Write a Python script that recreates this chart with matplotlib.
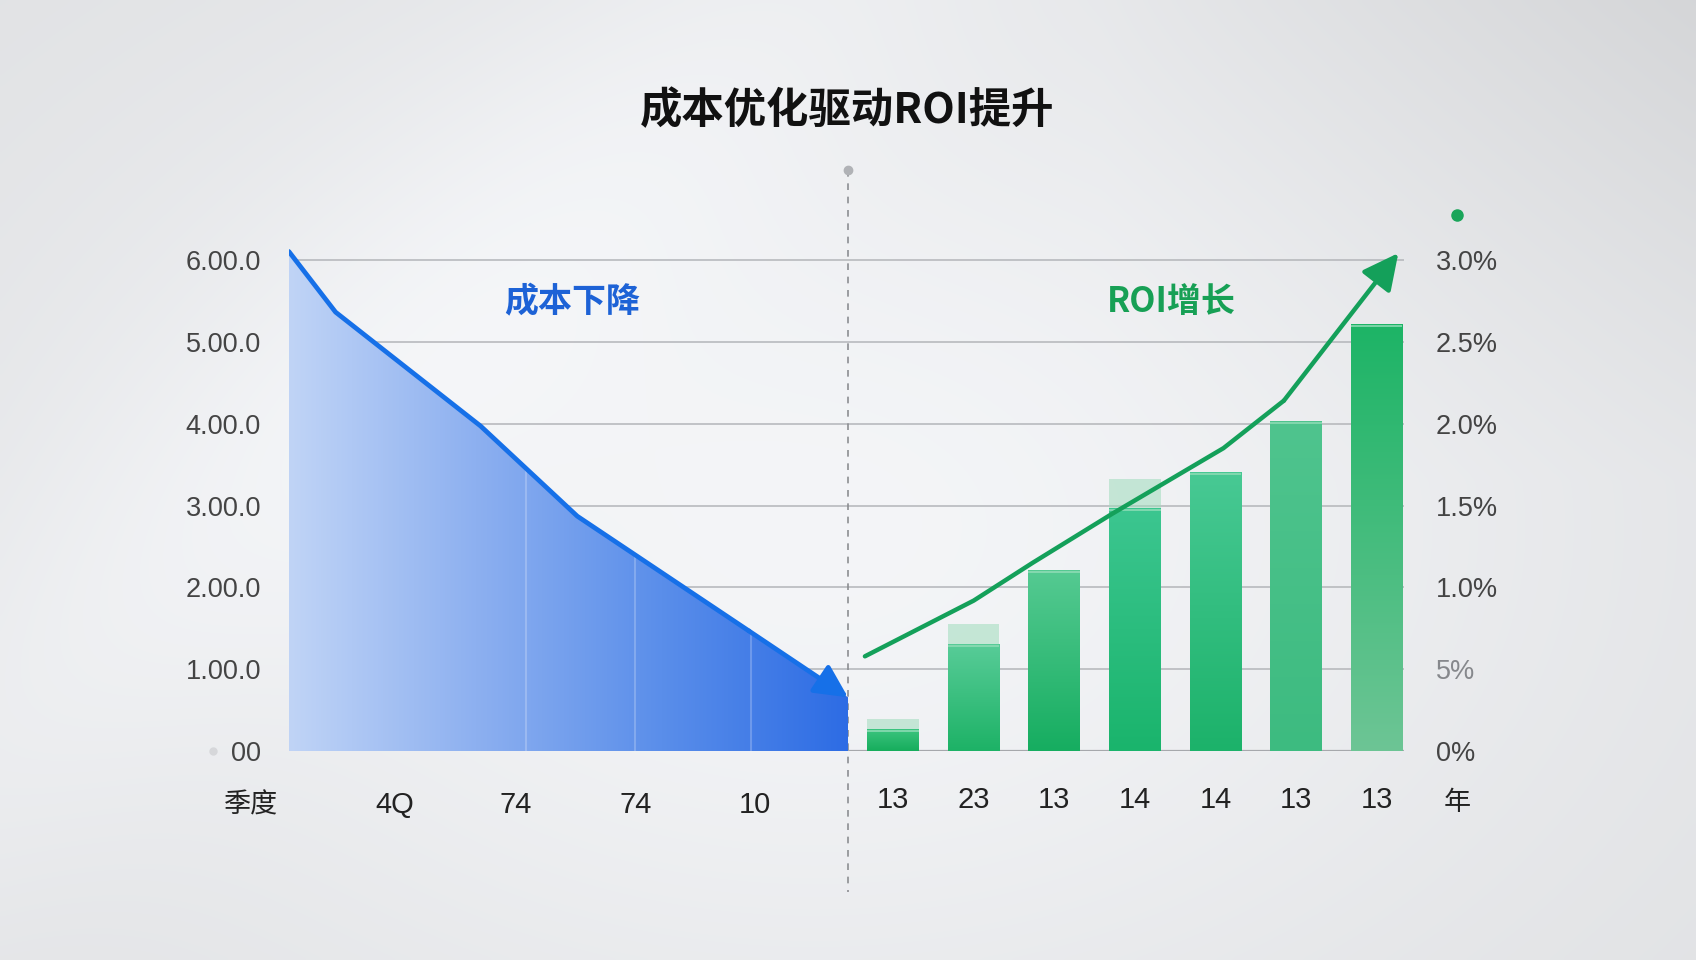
import numpy as np
import matplotlib
matplotlib.use("Agg")
import matplotlib.pyplot as plt
from matplotlib.colors import LinearSegmentedColormap
from matplotlib.patches import Polygon, Rectangle

plt.rcParams['font.family'] = ['Liberation Sans', 'Noto Sans CJK SC', 'DejaVu Sans']
CJK = ['Noto Sans CJK SC', 'DejaVu Sans']

title = "成本优化驱动ROI提升"
cost_label = "成本下降"
roi_label = "ROI增长"

# left half: cost going down
cost_t = [0.0, 0.58, 2.38, 3.58, 5.71, 6.94]
cost_vals = [6.10, 5.36, 3.97, 2.87, 1.47, 0.66]
cost_tick_vals = [6, 5, 4, 3, 2, 1, 0]
cost_ticks = ["6.00.0", "5.00.0", "4.00.0", "3.00.0", "2.00.0", "1.00.0", "00"]
quarter_labels = ["4Q", "74", "74", "10"]
quarter_axis_label = "季度"

# right half: ROI in %
year_labels = ["13", "23", "13", "14", "14", "13", "13"]
year_axis_label = "年"
roi_bars = [0.13, 0.65, 1.10, 1.48, 1.70, 2.01, 2.60]
roi_ghost = [0.20, 0.78, None, 1.66, None, None, None]
roi_trend_t = [-0.35, 1.0, 1.73, 2.72, 4.1, 4.85, 6.27]
roi_trend = [0.58, 0.92, 1.15, 1.45, 1.85, 2.14, 3.04]
roi_tick_vals = [3.0, 2.5, 2.0, 1.5, 1.0, 0.5, 0.0]
roi_ticks = ["3.0%", "2.5%", "2.0%", "1.5%", "1.0%", "5%", "0%"]

# layout
split_x = 6.94
bar_start = 7.5
bar_w = 0.64
x_max = 13.84
quarter_pos0, quarter_step = 1.32, 1.49
bar_tops = ['#3cc47f', '#58cc98', '#55ca92', '#3cc690', '#48c994', '#4fc48e', '#1db466']
bar_bots = ['#16ad5c', '#1db266', '#16ad60', '#1ab46c', '#1cb26a', '#3dbb80', '#6dc595']

fig = plt.figure(figsize=(16.96, 9.6), dpi=100)

# background
bg = fig.add_axes([0, 0, 1, 1], zorder=-5)
yy, xx = np.mgrid[0:1:240j, 0:1:424j]
glow = np.exp(-(((xx - 0.48) / 0.5) ** 2 + ((yy - 0.55) / 0.6) ** 2))
base = 0.885 + 0.085 * glow
base -= 0.05 * np.clip((xx - 0.65) / 0.35, 0, 1) * np.clip((0.5 - yy) / 0.5, 0, 1)
base += 0.025 * np.exp(-((xx + yy * 0.6 - 0.45) / 0.15) ** 2)
rgb = np.clip(np.dstack([base * 0.985, base * 0.99, base * 1.0]), 0, 1)
bg.imshow(rgb, aspect='auto', extent=[0, 1, 0, 1], interpolation='bicubic')
bg.set_axis_off()

ax = fig.add_axes([0.1703, 0.2173, 0.8278 - 0.1703, 0.7722 - 0.2173])
ax.patch.set_alpha(0)
ax.set_ylim(0, 6.5)
for s in ax.spines.values():
    s.set_visible(False)

# grid
ax.hlines(cost_tick_vals[:-1], 0, x_max, color='#b3b5b9', lw=1.1, zorder=1)
ax.hlines([0], 0, x_max, color='#a6a8ac', lw=1.6, zorder=1)

# blue gradient area
verts = [(cost_t[0], 0)] + list(zip(cost_t, cost_vals)) + [(cost_t[-1], 0)]
poly = Polygon(verts, closed=True, facecolor='none', edgecolor='none')
ax.add_patch(poly)
blue_cmap = LinearSegmentedColormap.from_list('b', ['#c0d4f6', '#8db0f0', '#5a8eea', '#2d6ce4'])
grad = np.linspace(0, 1, 256).reshape(1, -1)
im = ax.imshow(grad, cmap=blue_cmap, aspect='auto', extent=[0, split_x, 0, 6.2],
               zorder=2, interpolation='bicubic')
im.set_clip_path(poly)
for sx in [2.94, 4.30, 5.74]:
    ln = ax.vlines(sx, 0, 6.2, color='white', lw=1.5, alpha=0.22, zorder=3)
    ln.set_clip_path(poly)

ax.plot(cost_t[:-1], cost_vals[:-1], color='#1670e8', lw=3.4, zorder=5,
        solid_capstyle='round', solid_joinstyle='round')
ax.annotate('', xy=(cost_t[-1], cost_vals[-1]), xytext=(cost_t[-2], cost_vals[-2]),
            arrowprops=dict(arrowstyle='-|>,head_length=1.0,head_width=0.5',
                            color='#1670e8', lw=3.4, mutation_scale=20,
                            shrinkA=0, shrinkB=0), zorder=5)

# divider
ax.plot([split_x, split_x], [7.10, -1.72], color='#8c8e92', lw=1.2,
        dashes=(4, 4), clip_on=False, zorder=1)
ax.plot([split_x], [7.10], 'o', color='#b0b2b6', ms=6, clip_on=False, zorder=2)

# left ticks
ax.set_yticks(cost_tick_vals, cost_ticks)
ax.tick_params(axis='y', length=0, pad=20, labelsize=19.5, labelcolor='#444444')
ax.set_xticks([])
ax.plot([-0.94], [0], 'o', color='#d6d7da', ms=5, clip_on=False)

for i, lab in enumerate(quarter_labels):
    ax.text(quarter_pos0 + i * quarter_step, -0.66, lab, ha='center', va='center',
            fontsize=21, color='#222222')
ax.text(-0.47, -0.66, quarter_axis_label, ha='center', va='center', fontsize=19.5,
        color='#222222', family=CJK)
for i, lab in enumerate(year_labels):
    ax.text(bar_start + i, -0.59, lab, ha='center', va='center', fontsize=21,
            color='#222222')
ax.text(bar_start + len(year_labels), -0.62, year_axis_label, ha='center', va='center',
        fontsize=19.5, color='#222222', family=CJK)

# right axis
ax2 = ax.twinx()
ax2.set_ylim(0, 3.25)
for s in ax2.spines.values():
    s.set_visible(False)
ax2.set_yticks(roi_tick_vals, roi_ticks)
ax2.tick_params(axis='y', length=0, pad=23, labelsize=19.5, labelcolor='#444444')
ax2.get_yticklabels()[5].set_color('#86888c')

vgrad = np.linspace(1, 0, 256).reshape(-1, 1)
for i, h in enumerate(roi_bars):
    xc = bar_start + i
    cm = LinearSegmentedColormap.from_list('g%d' % i, [bar_bots[i], bar_tops[i]])
    ax2.imshow(vgrad, cmap=cm, aspect='auto', extent=[xc - bar_w / 2, xc + bar_w / 2, 0, h],
               zorder=3, interpolation='bicubic')
    ax2.add_patch(Rectangle((xc - bar_w / 2, h - 0.012), bar_w, 0.012,
                            color='#8fdcb6', alpha=0.8, zorder=4, lw=0))
    if roi_ghost[i] is not None:
        ax2.add_patch(Rectangle((xc - bar_w / 2, h), bar_w, roi_ghost[i] - h,
                                color='#9fdcbc', alpha=0.55, zorder=2, lw=0))

tx = [bar_start + t for t in roi_trend_t]
ax2.plot(tx[:-1], roi_trend[:-1], color='#14a05a', lw=3.2, zorder=6,
         solid_capstyle='round', solid_joinstyle='round')
ax2.annotate('', xy=(tx[-1], roi_trend[-1]), xytext=(tx[-2], roi_trend[-2]),
             arrowprops=dict(arrowstyle='-|>,head_length=1.1,head_width=0.55',
                             color='#14a05a', lw=3.2, mutation_scale=20,
                             shrinkA=0, shrinkB=0), zorder=6)
ax2.plot([bar_start + len(year_labels)], [3.27], 'o', color='#1aa55a', ms=8, clip_on=False)

ax.text(3.52, 5.49, cost_label, ha='center', va='center', fontsize=24.5,
        fontweight='bold', color='#1d62d6', family=CJK, zorder=7)
ax.text(10.95, 5.49, roi_label, ha='center', va='center', fontsize=24.5,
        fontweight='bold', color='#17a055', family=CJK, zorder=7)

ax.set_xlim(0, x_max)
ax2.set_xlim(0, x_max)

fig.text(0.4994, 0.884, title, ha='center', va='center', fontsize=30.5,
         fontweight='bold', color='#111111', family=CJK)

fig.savefig('out.png', dpi=100)
